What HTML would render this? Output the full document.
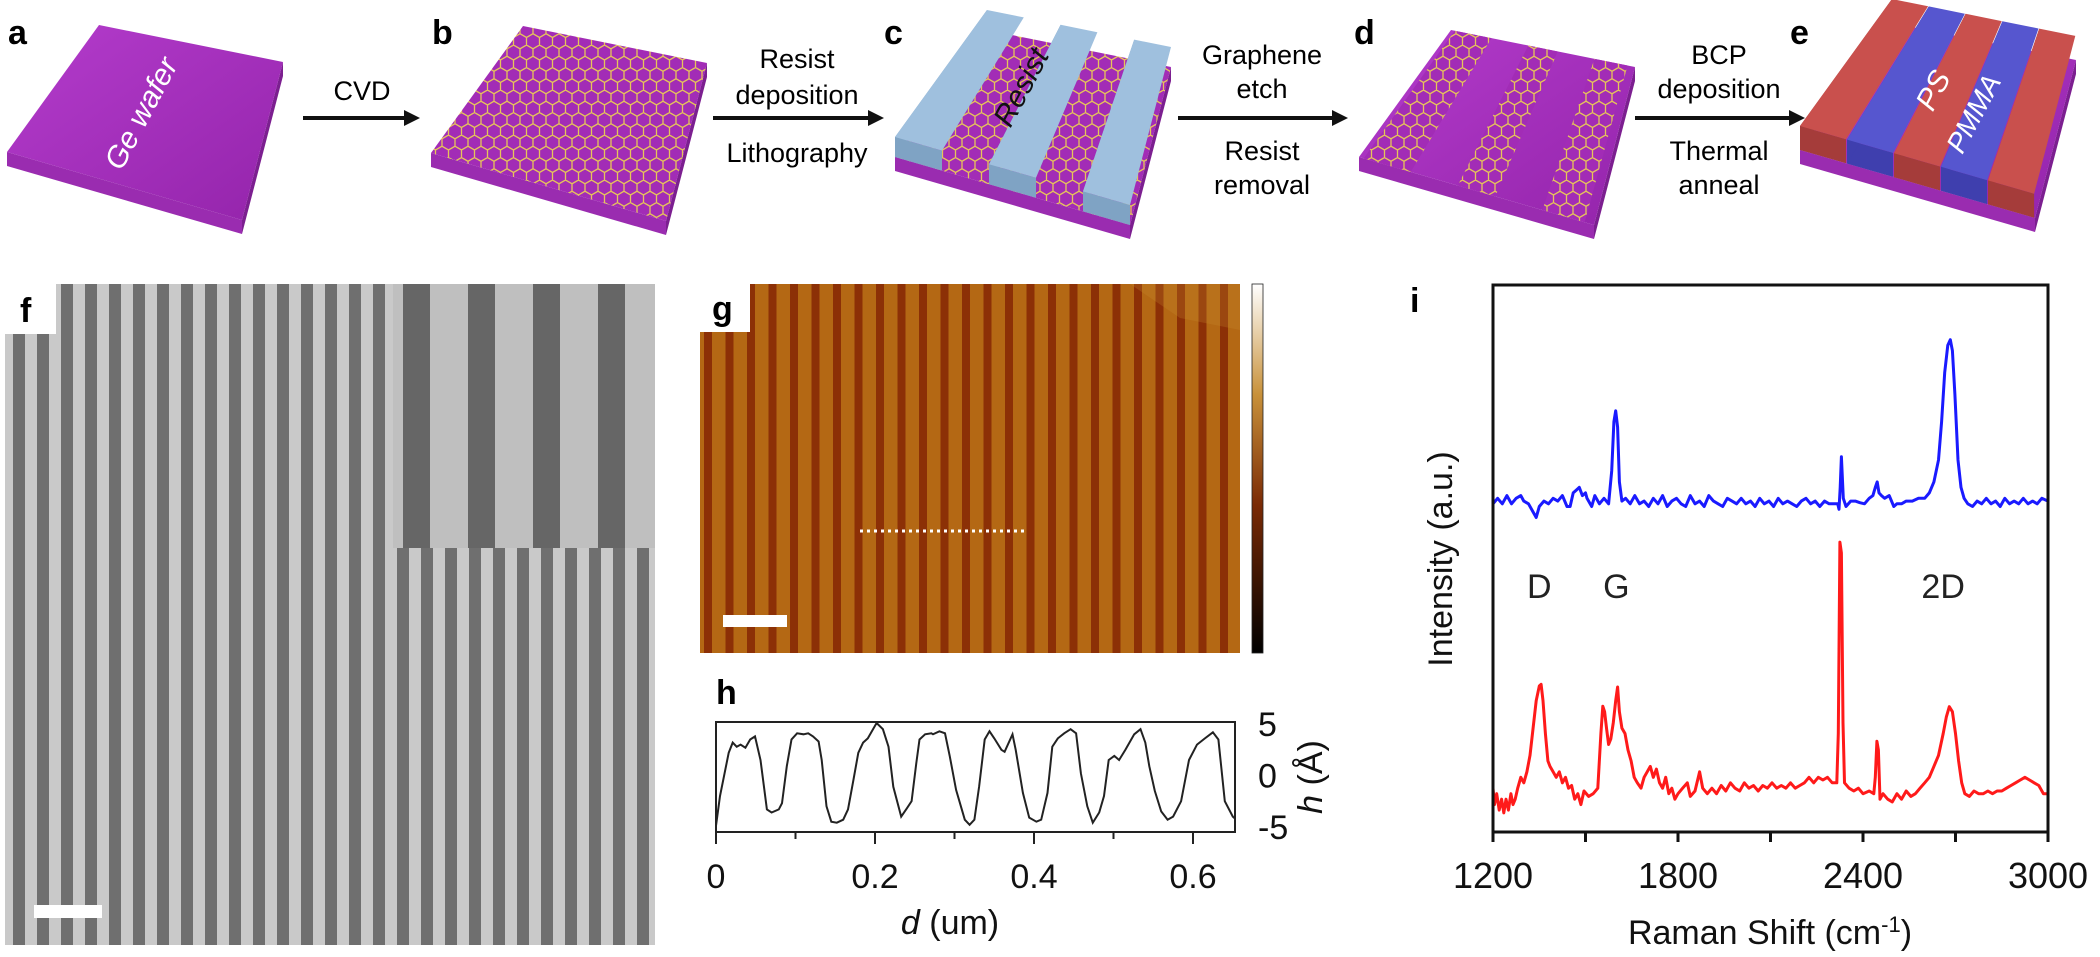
<!DOCTYPE html>
<html><head><meta charset="utf-8"><style>
html,body{margin:0;padding:0;background:#fff;}
svg{display:block;font-family:"Liberation Sans",Arial,sans-serif;}
</style></head><body>
<svg id="fig" width="2100" height="957" viewBox="0 0 2100 957" xmlns="http://www.w3.org/2000/svg">
<defs>
<pattern id="hex" width="13" height="22.5" patternUnits="userSpaceOnUse">
<rect width="13" height="22.5" fill="#a22cb6"/>
<path d="M0,3.75 L6.5,0 L13,3.75 M6.5,0 L6.5,-1 M0,3.75 L0,11.25 L6.5,15 L13,11.25 L13,3.75 M6.5,15 L6.5,22.5" fill="none" stroke="#e6c45a" stroke-width="1.3"/>
</pattern>
<linearGradient id="purp" x1="0" y1="0" x2="1" y2="1"><stop offset="0" stop-color="#b43ccc"/><stop offset="1" stop-color="#9424ab"/></linearGradient>
<linearGradient id="cbar" x1="0" y1="0" x2="0" y2="1"><stop offset="0" stop-color="#ffffff"/><stop offset="0.3" stop-color="#c8913a"/><stop offset="0.6" stop-color="#7a2a05"/><stop offset="1" stop-color="#000"/></linearGradient>
<pattern id="semMain" width="24" height="10" patternUnits="userSpaceOnUse" x="5"><rect width="24" height="10" fill="#c9c9c9"/><rect x="8" width="12" height="10" fill="#6f6f6f"/></pattern>
<pattern id="semInset" width="65" height="10" patternUnits="userSpaceOnUse" x="393"><rect width="65" height="10" fill="#bfbfbf"/><rect x="10" width="27" height="10" fill="#666"/></pattern>
<pattern id="afm" width="21.5" height="10" patternUnits="userSpaceOnUse" x="700"><rect width="21.5" height="10" fill="#b46814"/><rect x="4" width="8" height="10" fill="#8c3006"/></pattern>
</defs>
<g id="schem"></g>

<g font-weight="bold" font-size="34">
<text x="8" y="44">a</text>
<text x="432" y="44">b</text>
<text x="884" y="44">c</text>
<text x="1354" y="44">d</text>
<text x="1790" y="44">e</text>
</g>
<g font-size="27" text-anchor="middle">
<text x="362" y="100">CVD</text>
<text x="797" y="68">Resist</text>
<text x="797" y="104">deposition</text>
<text x="797" y="162">Lithography</text>
<text x="1262" y="64">Graphene</text>
<text x="1262" y="98">etch</text>
<text x="1262" y="160">Resist</text>
<text x="1262" y="194">removal</text>
<text x="1719" y="64">BCP</text>
<text x="1719" y="98">deposition</text>
<text x="1719" y="160">Thermal</text>
<text x="1719" y="194">anneal</text>
</g>
<g stroke="#111" stroke-width="4" fill="#111">
<line x1="303" y1="118" x2="404" y2="118"/><polygon points="404,110 420,118 404,126" stroke="none"/>
<line x1="713" y1="118" x2="868" y2="118"/><polygon points="868,110 884,118 868,126" stroke="none"/>
<line x1="1178" y1="118" x2="1332" y2="118"/><polygon points="1332,110 1348,118 1332,126" stroke="none"/>
<line x1="1635" y1="118" x2="1789" y2="118"/><polygon points="1789,110 1805,118 1789,126" stroke="none"/>
</g>

<g>
<rect x="5" y="284" width="650" height="661" fill="url(#semMain)"/>
<rect x="393" y="284" width="262" height="264" fill="url(#semInset)"/>
<rect x="5" y="284" width="51" height="50" fill="#fff"/>
<text x="20" y="322" font-size="34" font-weight="bold">f</text>
<rect x="34" y="905" width="68" height="13" fill="#fff"/>
</g>

<g>
<rect x="700" y="284" width="540" height="369" fill="url(#afm)"/>
<polygon points="1130,284 1240,284 1240,330 1180,318" fill="#c88a30" opacity="0.25"/>
<rect x="700" y="284" width="50" height="48" fill="#fff"/>
<text x="712" y="320" font-size="34" font-weight="bold">g</text>
<rect x="723" y="615" width="64" height="12" fill="#fff"/>
<line x1="860" y1="531" x2="1027" y2="531" stroke="#fff" stroke-width="3" stroke-dasharray="3,4"/>
<rect x="1252" y="284" width="11" height="369" fill="url(#cbar)" stroke="#222" stroke-width="0.8"/>
</g>

<g id="panelH">
<text x="716" y="704" font-size="34" font-weight="bold">h</text>
</g>

<g id="panelI">
<text x="1410" y="312" font-size="34" font-weight="bold">i</text>
</g>
</svg>
<script>
// ---------- panel h data ----------
const hD = [0,.005,.016,.021,.026,.031,.037,.043,.049,.056,.064,.070,.079,.083,.089,.095,.102,.110,.116,.122,.129,.133,.139,.145,.152,.160,.166,.173,.179,.185,.191,.202,.210,.217,.223,.233,.240,.246,.252,.256,.263,.271,.273,.281,.288,.294,.302,.313,.319,.325,.331,.338,.344,.350,.359,.363,.373,.377,.386,.394,.403,.409,.417,.423,.430,.438,.446,.453,.459,.467,.474,.482,.488,.494,.501,.507,.515,.526,.534,.540,.545,.552,.560,.568,.575,.585,.595,.605,.615,.625,.632,.640,.650,.653];
const hH = [-4.9,-2.0,2.2,3.2,2.8,3.0,2.7,3.5,3.8,1.5,-3.3,-3.6,-3.3,-2.7,0.9,3.5,4.1,4.0,4.1,3.8,3.3,1.5,-3.0,-4.5,-4.6,-4.3,-3.3,-0.4,2.2,3.2,3.6,5.1,4.5,2.8,-1.1,-4.0,-3.2,-2.5,1.2,3.5,4.0,4.1,4.0,4.3,4.1,1.9,-1.4,-4.3,-4.8,-4.3,-1.1,3.5,4.3,3.6,2.5,2.3,4.0,2.5,-1.7,-4.1,-4.5,-4.3,-1.7,2.8,3.6,4.1,4.5,4.1,0.2,-3.0,-4.6,-3.6,-2.0,1.5,1.9,1.5,2.5,4.0,4.5,3.2,0.9,-1.5,-3.5,-4.3,-4.0,-2.5,1.5,3.0,3.6,4.2,3.5,-2.5,-4.0,-4.2];
const hXTicks = [0,0.1,0.2,0.3,0.4,0.5,0.6];
const hXLabels = ["0","","0.2","","0.4","","0.6"];
const hYTicks = [5,0,-5];
const hYLabels = ["5","0","-5"];

// ---------- panel i data ----------
const blueX = [1200,1215,1230,1245,1260,1275,1290,1300,1315,1330,1340,1350,1365,1380,1395,1410,1425,1440,1450,1460,1470,1480,1490,1500,1505,1520,1530,1545,1560,1575,1585,1592,1598,1604,1610,1618,1630,1645,1660,1675,1690,1705,1720,1735,1750,1765,1780,1795,1810,1825,1840,1855,1870,1885,1900,1915,1930,1945,1960,1975,1990,2005,2020,2035,2050,2065,2080,2095,2110,2125,2140,2155,2170,2185,2200,2215,2230,2245,2260,2275,2290,2305,2318,2322,2326,2330,2336,2345,2360,2375,2390,2405,2420,2432,2440,2446,2452,2460,2470,2485,2500,2510,2525,2540,2560,2580,2600,2615,2630,2645,2655,2665,2675,2683,2690,2698,2708,2718,2728,2740,2755,2770,2785,2800,2815,2830,2845,2860,2875,2890,2905,2920,2935,2950,2965,2980,3000];
const blueY = [60,61,60,61.5,60,61,61.5,60.5,60,58.5,57.5,59.5,60.5,60,61,60.5,61.5,59.5,59.5,62,62.5,63,61.5,62,61,59.5,61.5,60,61,60,66,75,77,74,64,60.5,61,60,61.5,60,60.5,59.5,61,60,61.5,59.5,60.5,61,60,59.5,61.5,60,60.5,59.5,61.5,60.5,60,59.5,61,60.5,60,61,60,60.5,59.5,61,60,60.5,59.5,61,60,60.5,60,59.5,60.5,61,60,60.5,59.5,60.5,60,60,60,59,63,68.6,61,59.5,60.5,60.5,60.2,60,61,61.5,63,64,62,61.5,61,61.5,59.5,60,60,60.5,60.5,61,61,62,64,68,75,84,89,90,88,80,68,63,61,60,59.5,60.5,60,61,60,60.5,59.5,61,60,60.5,60,61,60,60.5,60,61,60.5];
const redX = [1200,1205,1212,1220,1228,1235,1242,1250,1258,1265,1272,1280,1290,1300,1310,1320,1330,1340,1350,1356,1362,1370,1378,1385,1395,1405,1415,1425,1435,1445,1455,1465,1475,1485,1495,1510,1525,1540,1550,1556,1562,1568,1575,1582,1590,1598,1604,1610,1618,1628,1638,1648,1658,1668,1680,1690,1700,1710,1720,1730,1740,1750,1760,1770,1780,1790,1800,1815,1830,1840,1855,1870,1880,1895,1910,1925,1940,1955,1970,1985,2000,2015,2030,2045,2060,2075,2090,2105,2120,2135,2150,2165,2180,2195,2210,2225,2240,2255,2270,2285,2300,2315,2320,2325,2330,2335,2340,2355,2370,2385,2400,2420,2435,2440,2445,2450,2455,2465,2480,2495,2510,2525,2540,2555,2570,2585,2600,2615,2630,2645,2660,2670,2680,2690,2700,2710,2720,2730,2745,2760,2775,2790,2805,2820,2835,2850,2865,2880,2895,2910,2925,2940,2955,2970,2985,3000];
const redY = [8,5,7,4,6,3.5,6,4,7,5,6,8,10,9,11,14,19,24,26.7,27,24,18,13,12,11,10,11,9,10,8,8.5,6,7,5,7.5,6.5,7,8,18,23,22,19,16,17,20,24,26.5,22,19,18,15,13,10,9,8,10,11,12,10,11.5,9,8,10,7,8,6,7,8,9,6.5,7.5,11,8,7,8,7,8.5,7.5,9,8,7.5,9,8,8.5,7.5,8.5,8,9,8,8.5,8,9,8,8.5,9,10,9,10,9.5,10,9,9,18,53,51,20,9,8,7.5,8,7,7.5,7,10,16.6,15,6,7,6,5.5,7,6,7.5,6.5,7,8,9,10,12,14,18,21,22.9,22,18,13,9,7,6.5,7.5,7,7,7.5,7,7.5,7.5,8,8.5,9,9.5,10,9.5,9,8.5,7,7];
const iXTicks = [1200,1500,1800,2100,2400,2700,3000];
const iXLabels = ["1200","","1800","","2400","","3000"];
const peakNames = ["D","G","2D"];
const peakPos = [1350,1600,2660];
const peakLevel = [45,45,45];

const NS = "http://www.w3.org/2000/svg";
function mk(tag, attrs, parent){const e=document.createElementNS(NS,tag);for(const k in attrs)e.setAttribute(k,attrs[k]);parent.appendChild(e);return e;}

// ---------- schematics ----------
const schem = document.getElementById('schem');
const quad = {TL:[92,-127],TR:[276,-90],BR:[235,68],BL:[0,0]};
function P(o,u,v,dy){const a=quad.TL,b=quad.TR,c=quad.BR,d=quad.BL;
  const x=(1-v)*((1-u)*a[0]+u*b[0])+v*((1-u)*d[0]+u*c[0]);
  const y=(1-v)*((1-u)*a[1]+u*b[1])+v*((1-u)*d[1]+u*c[1]);
  return [o[0]+x,o[1]+y-(dy||0)];}
function poly(pts){return pts.map(p=>p[0].toFixed(1)+','+p[1].toFixed(1)).join(' ');}
function wafer(o, face){
  const T=14;
  const bl=P(o,0,1),br=P(o,1,1),tr=P(o,1,0);
  mk('polygon',{points:poly([bl,br,[br[0],br[1]+T],[bl[0],bl[1]+T]]),fill:'#9a2cb0'},schem);
  mk('polygon',{points:poly([br,tr,[tr[0],tr[1]+T],[br[0],br[1]+T]]),fill:'#7c1f90'},schem);
  mk('polygon',{points:poly([P(o,0,0),P(o,1,0),P(o,1,1),P(o,0,1)]),fill:face},schem);
}
function band(o,u0,u1,fill,dy){return mk('polygon',{points:poly([P(o,u0,0,dy),P(o,u1,0,dy),P(o,u1,1,dy),P(o,u0,1,dy)]),fill:fill},schem);}
function bar(o,u0,u1,top,side,H){
  const fb=[P(o,u0,1),P(o,u1,1),P(o,u1,1,H),P(o,u0,1,H)];
  mk('polygon',{points:poly(fb),fill:side},schem);
  const lb=[P(o,u0,0),P(o,u0,1),P(o,u0,1,H),P(o,u0,0,H)];
  mk('polygon',{points:poly(lb),fill:side},schem);
  band(o,u0,u1,top,H);
}
const oa=[7,152], ob=[431,153], oc=[895,157], od=[1359,157], oe=[1800,150];
wafer(oa,'url(#purp)');
const t1=mk('text',{x:0,y:0,'font-size':30,'font-style':'italic',fill:'#fff','text-anchor':'middle',transform:'translate(150,118) rotate(-62)'},schem);t1.textContent='Ge wafer';


wafer(ob,'url(#hex)');
wafer(oc,'url(#hex)');
[[0,0.2],[0.4,0.6],[0.8,1.0]].forEach(s=>bar(oc,s[0],s[1],'#9fc0de','#7fa3c4',20));
const t2=mk('text',{x:0,y:0,'font-size':30,'font-style':'italic',fill:'#111','text-anchor':'middle',transform:'translate(1030,92) rotate(-62)'},schem);t2.textContent='Resist';


wafer(od,'url(#purp)');
[[0.02,0.22],[0.42,0.58],[0.78,0.96]].forEach(s=>band(od,s[0],s[1],'url(#hex)',0));
wafer(oe,'url(#purp)');
[0,1,2,3,4].forEach(i=>bar(oe,i*0.2,(i+1)*0.2-0.004,i%2?'#5656cf':'#c9504d',i%2?'#3f3fae':'#a53c3a',24));
const t3=mk('text',{x:0,y:0,'font-size':30,'font-style':'italic',fill:'#fff','text-anchor':'middle',transform:'translate(1942,95) rotate(-62)'},schem);t3.textContent='PS';


const t4=mk('text',{x:0,y:0,'font-size':28,'font-style':'italic',fill:'#fff','text-anchor':'middle',transform:'translate(1982,118) rotate(-62)'},schem);t4.textContent='PMMA';



// ---------- panel h ----------
const gh=document.getElementById('panelH');
const hx=d=>716+d/0.2*159, hy=v=>832-(v+5.5)/10.7*110;
const hbox=mk('rect',{x:716,y:722,width:519,height:110,fill:'none',stroke:'#222','stroke-width':2},gh);


hXTicks.forEach((t,i)=>{
  mk('line',{x1:hx(t),y1:832,x2:hx(t),y2:(i%2?839:844),stroke:'#222','stroke-width':2},gh);
  if(hXLabels[i]){const tx=mk('text',{x:hx(t),y:888,'font-size':34,'text-anchor':'middle',fill:'#111'},gh);tx.textContent=hXLabels[i];
  
  }
});
hYTicks.forEach((t,i)=>{const tx=mk('text',{x:1258,y:hy(t)+12,'font-size':34,fill:'#111'},gh);tx.textContent=hYLabels[i];
  
  });
const hxt=mk('text',{x:950,y:934,'font-size':34,'text-anchor':'middle',fill:'#111'},gh);hxt.innerHTML='<tspan font-style="italic">d</tspan> (um)';


const hyt=mk('text',{x:0,y:0,'font-size':34,'text-anchor':'middle',fill:'#111',transform:'translate(1322,777) rotate(-90)'},gh);hyt.innerHTML='<tspan font-style="italic">h</tspan> (Å)';


const hl=mk('polyline',{points:hD.map((d,i)=>hx(d).toFixed(1)+','+hy(hH[i]).toFixed(1)).join(' '),fill:'none',stroke:'#222','stroke-width':2},gh);



// ---------- panel i ----------
const gi=document.getElementById('panelI');
const ix=c=>1493+(c-1200)/1800*555, iy=v=>832-v*5.47;
const bl=mk('polyline',{points:blueX.map((c,i)=>ix(c).toFixed(1)+','+iy(blueY[i]).toFixed(1)).join(' '),fill:'none',stroke:'#1a1aff','stroke-width':3,'stroke-linejoin':'round'},gi);


const rl=mk('polyline',{points:redX.map((c,i)=>ix(c).toFixed(1)+','+iy(redY[i]).toFixed(1)).join(' '),fill:'none',stroke:'#ff1a1a','stroke-width':3,'stroke-linejoin':'round'},gi);


const ibox=mk('rect',{x:1493,y:285,width:555,height:547,fill:'none',stroke:'#111','stroke-width':3},gi);


iXTicks.forEach((t,i)=>{
  mk('line',{x1:ix(t),y1:832,x2:ix(t),y2:842,stroke:'#111','stroke-width':3},gi);
  if(iXLabels[i]){const tx=mk('text',{x:ix(t),y:888,'font-size':36,'text-anchor':'middle',fill:'#111'},gi);tx.textContent=iXLabels[i];
  
  }
});
peakNames.forEach((n,i)=>{const tx=mk('text',{x:ix(peakPos[i]),y:iy(peakLevel[i])+12,'font-size':34,'text-anchor':'middle',fill:'#222'},gi);tx.textContent=n;
  
  });
const ixt=mk('text',{x:1770,y:944,'font-size':34,'text-anchor':'middle',fill:'#111'},gi);ixt.innerHTML='Raman Shift (cm<tspan dy="-12" font-size="22">-1</tspan><tspan dy="12">)</tspan>';


const iyt=mk('text',{x:0,y:0,'font-size':34,'text-anchor':'middle',fill:'#111',transform:'translate(1452,559) rotate(-90)'},gi);iyt.textContent='Intensity (a.u.)';


</script>
</body></html>
